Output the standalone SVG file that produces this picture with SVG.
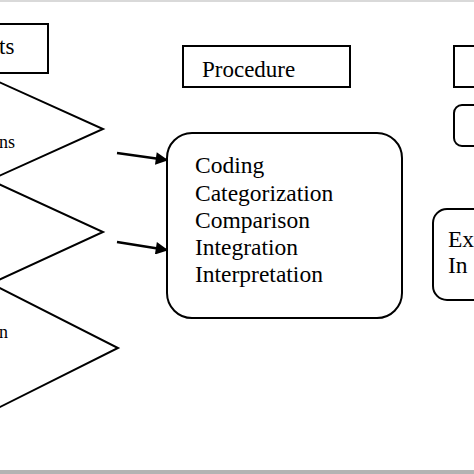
<svg xmlns="http://www.w3.org/2000/svg" width="474" height="474" viewBox="0 0 474 474">
<style>
.s{fill:#fff;stroke:#000;stroke-width:2}
.t{font-family:"Liberation Serif","Times New Roman",serif;fill:#000}
.c{stroke:#000;stroke-width:2.5;fill:none}
</style>
<defs>
<marker id="ah" viewBox="0 0 10 10" refX="9" refY="5" markerWidth="5.6" markerHeight="5" orient="auto" markerUnits="strokeWidth">
<path d="M0,0 L10,5 L0,10 Z" fill="#000"/>
</marker>
</defs>
<rect width="474" height="474" fill="#fff"/>
<rect x="0" y="0" width="474" height="2" fill="#d9d9d9"/>
<rect x="0" y="470" width="474" height="4" fill="#b3b3b3"/>
<g id="node-inputs">
<rect class="s" x="-20" y="24" width="68" height="49"/>
<text class="t" x="-1" y="54" font-size="23">ts</text>
</g>
<g id="node-d1">
<polygon class="s" points="-10,78 103,129 -10,180"/>
<text class="t" x="-1" y="148" font-size="18">ns</text>
</g>
<g id="node-d2">
<polygon class="s" points="-10,180 103,232 -10,284"/>
</g>
<g id="node-d3">
<polygon class="s" points="-10,283 118,348 -10,412"/>
<text class="t" x="-1" y="338" font-size="18">n</text>
</g>
<g id="node-procedure">
<rect class="s" x="183" y="46" width="167" height="41"/>
<text class="t" x="202" y="77" font-size="23">Procedure</text>
</g>
<g id="node-steps">
<rect class="s" x="167" y="133" width="235" height="185" rx="25" ry="25"/>
<text class="t" font-size="23.5" x="195">
<tspan x="195" y="173">Coding</tspan>
<tspan x="195" y="201">Categorization</tspan>
<tspan x="195" y="228">Comparison</tspan>
<tspan x="195" y="255">Integration</tspan>
<tspan x="195" y="282">Interpretation</tspan>
</text>
</g>
<g id="node-r1">
<rect class="s" x="454" y="46" width="40" height="41"/>
</g>
<g id="node-r2">
<rect class="s" x="454" y="105" width="40" height="41" rx="8" ry="8"/>
</g>
<g id="node-r3">
<rect class="s" x="433" y="209" width="60" height="91" rx="14" ry="14"/>
<text class="t" font-size="23.5">
<tspan x="448" y="247">Ex</tspan>
<tspan x="448" y="273">In</tspan>
</text>
</g>
<g id="connectors">
<line class="c" x1="117" y1="153" x2="167" y2="160" marker-end="url(#ah)"/>
<line class="c" x1="117" y1="242" x2="167" y2="250" marker-end="url(#ah)"/>
</g>
</svg>
